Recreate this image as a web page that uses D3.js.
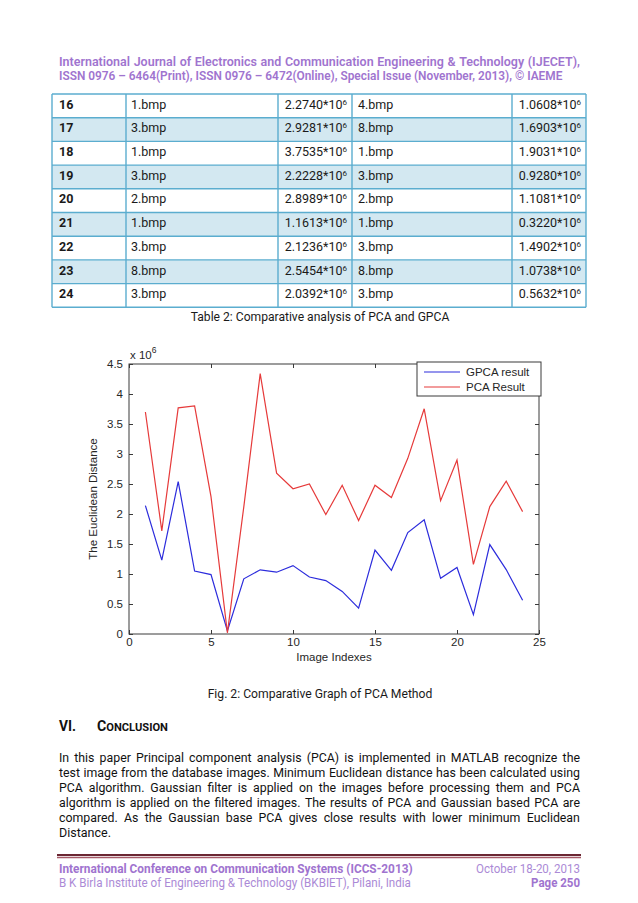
<!DOCTYPE html>
<html>
<head>
<meta charset="utf-8">
<script src="https://cdn.jsdelivr.net/npm/d3@7"></script>
<style>
  body { margin: 0; background: #fff; }
</style>
</head>
<body>
<div id="page"></div>
<script>
/* DATA */
const imageIndex = [1, 2, 3, 4, 5, 6, 7, 8, 9, 10, 11, 12, 13, 14, 15, 16, 17, 18, 19, 20, 21, 22, 23, 24];
// values in units of 10^6 (1-15, 16-24 from the table)
const gpcaResult = [2.14, 1.23, 2.54, 1.05, 0.99, 0.05, 0.92, 1.07, 1.03, 1.14, 0.95, 0.89, 0.71, 0.43, 1.40,
  1.0608, 1.6903, 1.9031, 0.9280, 1.1081, 0.3220, 1.4902, 1.0738, 0.5632];
const pcaResult = [3.70, 1.72, 3.77, 3.80, 2.29, 0.02, 2.12, 4.34, 2.68, 2.42, 2.50, 1.99, 2.48, 1.89, 2.48,
  2.2740, 2.9281, 3.7535, 2.2228, 2.8989, 1.1613, 2.1236, 2.5454, 2.0392];

// table rows 16..24
const tableIndex = [16, 17, 18, 19, 20, 21, 22, 23, 24];
const pcaImage = ["1.bmp", "3.bmp", "1.bmp", "3.bmp", "2.bmp", "1.bmp", "3.bmp", "8.bmp", "3.bmp"];
const gpcaImage = ["4.bmp", "8.bmp", "1.bmp", "3.bmp", "2.bmp", "1.bmp", "3.bmp", "8.bmp", "3.bmp"];

const xTicks = [0, 5, 10, 15, 20, 25];
const yTicks = [0, 0.5, 1, 1.5, 2, 2.5, 3, 3.5, 4, 4.5];
const seriesNames = ["GPCA result", "PCA Result"];

const headerLines = [
  "International Journal of Electronics and Communication Engineering & Technology (IJECET),",
  "ISSN 0976 \u2013 6464(Print), ISSN 0976 \u2013 6472(Online), Special Issue (November, 2013), \u00a9 IAEME"
];
const paragraph = [
  "In this paper Principal component analysis (PCA) is implemented in MATLAB recognize the",
  "test image from the database images. Minimum Euclidean distance has been calculated using",
  "PCA algorithm. Gaussian filter is applied on the images before processing them and PCA",
  "algorithm is applied on the filtered images. The results of PCA and Gaussian based PCA are",
  "compared. As the Gaussian base PCA gives close results with lower minimum Euclidean",
  "Distance."
];

/* LAYOUT */
const W = 638, H = 903;
const purple = "#9f74cf", purpleLight = "#ab8ad6";
const bodyFont = "Roboto, 'Open Sans', sans-serif";
const matFont = "'Liberation Sans', Arial, sans-serif";

const svg = d3.select("#page").append("svg").attr("width", W).attr("height", H);

// one line squeezed/stretched to a given width
function fitLine(parent, str, x, y, width, anchor, css) {
  const g = parent.append("g");
  const t = g.append("text").attr("text-anchor", anchor || "start").text(str);
  Object.entries(css).forEach(([k, v]) => t.attr(k, v));
  const k = width / t.node().getComputedTextLength();
  g.attr("transform", `translate(${x},${y}) scale(${k},1)`);
  return t;
}

// width of a string in a given style (throwaway text node)
function measure(parent, str, css) {
  const t = parent.append("text").text(str);
  Object.entries(css).forEach(([k, v]) => t.attr(k, v));
  const w = t.node().getComputedTextLength();
  t.remove();
  return w;
}

// justified line: words spread to fill the width
function justifyLine(parent, str, x0, y, width, css, squeeze) {
  const words = str.split(" ");
  const g = parent.append("g");
  const spW = measure(g, "a a", css) - 2 * measure(g, "a", css);
  const t = g.selectAll("text").data(words).join("text").text(d => d);
  Object.entries(css).forEach(([k, v]) => t.attr(k, v));
  const ws = t.nodes().map(n => n.getComputedTextLength());
  const natural = d3.sum(ws) + spW * (words.length - 1);
  let k = squeeze;
  if (natural * k > width) k = width / natural;
  const inner = width / k;
  const gap = (inner - d3.sum(ws)) / (words.length - 1);
  let cx = 0;
  t.attr("x", (d, i) => { const v = cx; cx += ws[i] + gap; return v; });
  g.attr("transform", `translate(${x0},${y}) scale(${k},1)`);
}

/* HEADER */
const headCss = { "font-family": bodyFont, "font-size": 13, "font-weight": 600, fill: purple };
justifyLine(svg, headerLines[0], 59, 65.5, 521, headCss, 0.96);
fitLine(svg, headerLines[1], 59, 79.5, 504, "start", headCss);

/* TABLE */
const colX = [52, 126, 278, 352, 512, 586];
const rowTop = 94, rowH = 23.7;
const tbl = svg.append("g");
const fmt = d3.format(".4f");
const rows = tableIndex.map((d, i) => ({
  idx: d, pImg: pcaImage[i], pVal: pcaResult[d - 1], gImg: gpcaImage[i], gVal: gpcaResult[d - 1]
}));

tbl.selectAll("rect.row").data(rows).join("rect")
  .attr("class", "row")
  .attr("x", colX[0]).attr("width", colX[5] - colX[0])
  .attr("y", (d, i) => rowTop + i * rowH).attr("height", rowH)
  .attr("fill", (d, i) => i % 2 ? "#d3e8f1" : "#fff");

const cellCss = { "font-family": bodyFont, "font-size": 12.5, fill: "#1a1a1a" };
const rowG = tbl.selectAll("g.r").data(rows).join("g")
  .attr("class", "r")
  .attr("transform", (d, i) => `translate(0,${rowTop + i * rowH + 14.6})`);

function cellText(sel, x, anchor, txt, bold) {
  const t = sel.append("text").attr("x", x).attr("text-anchor", anchor)
    .attr("font-family", cellCss["font-family"]).attr("font-size", cellCss["font-size"])
    .attr("fill", cellCss.fill).attr("font-weight", bold ? 700 : 400);
  return t.text(txt);
}
rowG.each(function(d) {
  const r = d3.select(this);
  cellText(r, colX[0] + 7, "start", d.idx, true);
  cellText(r, colX[1] + 5, "start", d.pImg);
  const a = cellText(r, colX[3] - 5, "end", fmt(d.pVal) + "*10");
  a.append("tspan").attr("font-size", 8).attr("dy", -4).text("6");
  cellText(r, colX[3] + 6, "start", d.gImg);
  const b = cellText(r, colX[5] - 5, "end", fmt(d.gVal) + "*10");
  b.append("tspan").attr("font-size", 8).attr("dy", -4).text("6");
});

const tblBottom = rowTop + rows.length * rowH;
const lineCol = "#5badcf";
tbl.selectAll("line.h").data(d3.range(rows.length + 1)).join("line")
  .attr("x1", colX[0]).attr("x2", colX[5])
  .attr("y1", i => rowTop + i * rowH).attr("y2", i => rowTop + i * rowH)
  .attr("stroke", lineCol).attr("stroke-width", 1.4);
tbl.selectAll("line.v").data(colX).join("line")
  .attr("x1", d => d).attr("x2", d => d)
  .attr("y1", rowTop).attr("y2", tblBottom)
  .attr("stroke", lineCol).attr("stroke-width", 1.4);

fitLine(svg, "Table 2: Comparative analysis of PCA and GPCA", 320, 320.5, 259, "middle",
  { "font-family": bodyFont, "font-size": 13, fill: "#1a1a1a" });

/* CHART */
const plot = { left: 129, right: 539, top: 364, bottom: 634 };
const xScale = d3.scaleLinear().domain([0, 25]).range([plot.left, plot.right]);
const yScale = d3.scaleLinear().domain([0, 4.5]).range([plot.bottom, plot.top]);
const axisCol = "#3a3a3a", txtCol = "#262626";

const chart = svg.append("g").attr("font-family", matFont);

function styleAxis(g) {
  g.select(".domain").remove();
  g.selectAll(".tick line").attr("stroke", axisCol);
  g.selectAll(".tick text").attr("fill", txtCol).attr("font-size", 11.5).attr("font-family", matFont);
}

chart.append("g").attr("transform", `translate(0,${plot.bottom})`)
  .call(d3.axisBottom(xScale).tickValues(xTicks).tickSizeInner(-4).tickSizeOuter(0).tickPadding(4).tickFormat(d => d))
  .call(styleAxis);
chart.append("g").attr("transform", `translate(0,${plot.top})`)
  .call(d3.axisTop(xScale).tickValues(xTicks).tickSizeInner(-4).tickSizeOuter(0).tickFormat(""))
  .call(styleAxis);
chart.append("g").attr("transform", `translate(${plot.left},0)`)
  .call(d3.axisLeft(yScale).tickValues(yTicks).tickSizeInner(-4).tickSizeOuter(0).tickPadding(6).tickFormat(d => String(d)))
  .call(styleAxis);
chart.append("g").attr("transform", `translate(${plot.right},0)`)
  .call(d3.axisRight(yScale).tickValues(yTicks).tickSizeInner(-4).tickSizeOuter(0).tickFormat(""))
  .call(styleAxis);

chart.append("rect")
  .attr("x", plot.left).attr("y", plot.top)
  .attr("width", plot.right - plot.left).attr("height", plot.bottom - plot.top)
  .attr("fill", "none").attr("stroke", axisCol).attr("stroke-width", 1);

const line = d3.line().x((d, i) => xScale(imageIndex[i])).y(d => yScale(d));
const colors = ["#2c2cdc", "#e63a3a"];
chart.append("path").datum(gpcaResult).attr("d", line)
  .attr("fill", "none").attr("stroke", colors[0]).attr("stroke-width", 1.2);
chart.append("path").datum(pcaResult).attr("d", line)
  .attr("fill", "none").attr("stroke", colors[1]).attr("stroke-width", 1.2);

// exponent label
const expo = chart.append("text").attr("x", plot.left + 1).attr("y", 359)
  .attr("font-size", 11.5).attr("fill", txtCol).text("x 10");
expo.append("tspan").attr("font-size", 8.5).attr("dy", -6).text("6");

// axis titles
chart.append("text").attr("x", (plot.left + plot.right) / 2).attr("y", 661)
  .attr("text-anchor", "middle").attr("font-size", 11.5).attr("fill", txtCol).text("Image Indexes");
chart.append("text").attr("transform", `translate(97,${(plot.top + plot.bottom) / 2}) rotate(-90)`)
  .attr("text-anchor", "middle").attr("font-size", 11.5).attr("fill", txtCol).text("The Euclidean Distance");

// legend
const leg = chart.append("g");
leg.append("rect").attr("x", 417).attr("y", 362).attr("width", 124).attr("height", 34)
  .attr("fill", "#fff").attr("stroke", axisCol).attr("stroke-width", 1);
const legItems = leg.selectAll("g.item").data(seriesNames).join("g")
  .attr("class", "item")
  .attr("transform", (d, i) => `translate(0,${372 + i * 15})`);
legItems.append("line").attr("x1", 424).attr("x2", 460)
  .attr("stroke", (d, i) => colors[i]).attr("stroke-width", 1.2);
legItems.append("text").attr("x", 466).attr("y", 4.2)
  .attr("font-size", 11.5).attr("fill", txtCol).text(d => d);

/* FIGURE CAPTION */
fitLine(svg, "Fig. 2: Comparative Graph of PCA Method", 320, 698, 225, "middle",
  { "font-family": bodyFont, "font-size": 13, fill: "#1a1a1a" });

/* CONCLUSION */
fitLine(svg, "VI.", 59, 731, 17, "start",
  { "font-family": bodyFont, "font-size": 14, "font-weight": 700, fill: "#111" });
const head = fitLine(svg, "C", 97, 731, 71, "start",
  { "font-family": bodyFont, "font-size": 14, "font-weight": 700, fill: "#111" });
head.append("tspan").attr("font-size", 11).text("ONCLUSION");
// refit after adding small caps
(function() {
  const g = d3.select(head.node().parentNode);
  const k = 71 / head.node().getComputedTextLength();
  g.attr("transform", `translate(97,731) scale(${k},1)`);
})();

const paraCss = { "font-family": bodyFont, "font-size": 13, fill: "#111" };
paragraph.forEach((str, i) => {
  const y = 761.5 + i * 15;
  if (i < paragraph.length - 1) justifyLine(svg, str, 59, y, 521, paraCss, 0.95);
  else fitLine(svg, str, 59, y, 52, "start", paraCss);
});

/* FOOTER */
svg.append("line").attr("x1", 57).attr("x2", 581).attr("y1", 855).attr("y2", 855)
  .attr("stroke", "#6b2733").attr("stroke-width", 2.2);
svg.append("line").attr("x1", 57).attr("x2", 581).attr("y1", 857.5).attr("y2", 857.5)
  .attr("stroke", "#a45a68").attr("stroke-width", 1.4);

const footBold = { "font-family": bodyFont, "font-size": 13, "font-weight": 700, fill: purple };
const footReg = { "font-family": bodyFont, "font-size": 13, fill: purpleLight };
fitLine(svg, "International Conference on Communication Systems (ICCS-2013)", 59, 872.5, 354, "start", footBold);
fitLine(svg, "October 18-20, 2013", 580, 872.5, 104, "end", footReg);
fitLine(svg, "B K Birla Institute of Engineering & Technology (BKBIET), Pilani, India", 59, 886.5, 352, "start", footReg);
fitLine(svg, "Page 250", 580, 886.5, 49, "end", footBold);
</script>
</body>
</html>
